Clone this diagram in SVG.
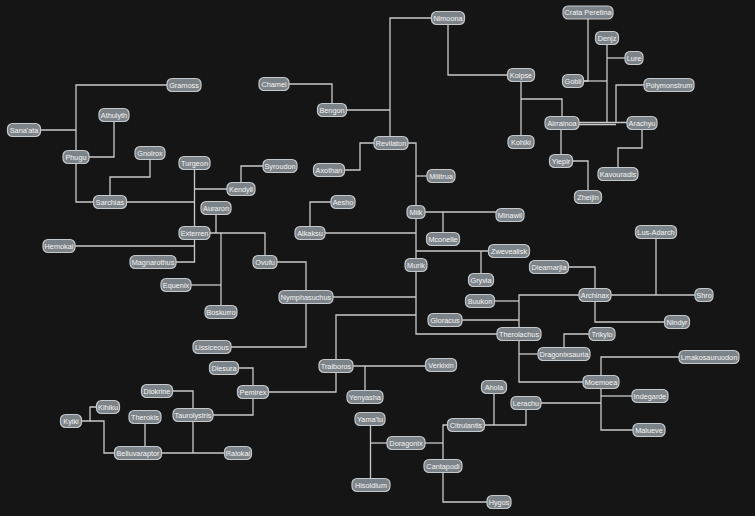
<svg xmlns="http://www.w3.org/2000/svg" width="755" height="516" viewBox="0 0 755 516">
<style>
.bg{fill:#151515}
.e path{fill:none;stroke:#c9c9c9;stroke-width:1.3}
.n rect{fill:#7c8388;stroke:#c6c9cc;stroke-width:1.2}
.n text{fill:#f4f4f4;font-family:"Liberation Sans",Arial,sans-serif;font-size:7.3px;text-anchor:middle;dominant-baseline:central}
</style>
<rect class="bg" x="0" y="0" width="755" height="516"/>
<g id="connectors" class="e">
<path d="M167,85H76V150.5"/>
<path d="M40.5,130H76"/>
<path d="M89,157H114V121.5"/>
<path d="M76,163.5V202H93.5"/>
<path d="M150,159.5V177H110V195.5"/>
<path d="M126.5,202H194.5"/>
<path d="M194.5,169.5V226.5"/>
<path d="M194.5,189H227"/>
<path d="M241,182.5V166H263"/>
<path d="M194.5,239.5V262H176"/>
<path d="M75,246H194.5"/>
<path d="M216,214.5V233"/>
<path d="M209.5,233H265V255.5"/>
<path d="M221,233V305.5"/>
<path d="M191,285H221"/>
<path d="M277,262H306V290.5"/>
<path d="M306,303.5V347H231"/>
<path d="M333,297H416"/>
<path d="M289,84H332V103.5"/>
<path d="M346.5,110H390"/>
<path d="M431.5,18H390V136.5"/>
<path d="M448,24.5V75H507.5"/>
<path d="M374,143H360V170H344.5"/>
<path d="M408,143H416V205.5"/>
<path d="M416,176H427"/>
<path d="M416,218.5V258.5"/>
<path d="M425,212H496"/>
<path d="M443,212V232.5"/>
<path d="M325,233H416"/>
<path d="M310,226.5V202H331"/>
<path d="M416,251H488.5"/>
<path d="M481,251V273.5"/>
<path d="M416,271.5V334H497"/>
<path d="M416,315H336V359.5"/>
<path d="M494.5,301H519"/>
<path d="M579,295H519V327.5"/>
<path d="M462,320H519"/>
<path d="M519,340.5V382H583"/>
<path d="M519,354H538"/>
<path d="M564,347.5V334H589"/>
<path d="M568.5,267H595V288.5"/>
<path d="M611,295H695"/>
<path d="M656,238.5V295"/>
<path d="M595,301.5V322H664.5"/>
<path d="M601,375.5V357H679"/>
<path d="M601,388.5V430H633"/>
<path d="M601,396H632"/>
<path d="M541,403H601"/>
<path d="M526,409.5V425H484.5"/>
<path d="M494,393.5V425"/>
<path d="M447.5,425H443V459.5"/>
<path d="M425,443H443"/>
<path d="M443,472.5V502H487"/>
<path d="M387,443H370.5"/>
<path d="M370.5,425.5V478.5"/>
<path d="M353,366H425.5"/>
<path d="M365,366V390.5"/>
<path d="M268.5,392H336V372.5"/>
<path d="M238.5,368H253V385.5"/>
<path d="M253,398.5V415H213"/>
<path d="M172.5,391H193V408.5"/>
<path d="M193,421.5V453"/>
<path d="M161.5,453H224.5"/>
<path d="M145,423.5V446.5"/>
<path d="M81.5,421H90V407H96.5"/>
<path d="M90,421H104V453H114.5"/>
<path d="M521,81.5V135.5"/>
<path d="M521,99H562V116.5"/>
<path d="M561,129.5V154.5"/>
<path d="M572.5,161H588V190.5"/>
<path d="M588,19V81H583.5"/>
<path d="M583.5,81H607"/>
<path d="M607,44.5V122.5"/>
<path d="M607,58H625"/>
<path d="M644,85H616V123"/>
<path d="M579,122.5H627"/>
<path d="M579,124.5H616"/>
<path d="M642,129.5V148H618V167.5"/>
</g>
<g class="n">
<g id="n-gramoss"><rect x="167" y="78.5" width="34" height="13" rx="5"/><text x="184" y="85">Gramoss</text></g>
<g id="n-athulyth"><rect x="99" y="108.5" width="30" height="13" rx="5"/><text x="114" y="115">Athulyth</text></g>
<g id="n-sanaata"><rect x="7.5" y="123.5" width="33" height="13" rx="5"/><text x="24" y="130">Sana'ata</text></g>
<g id="n-phugu"><rect x="63" y="150.5" width="26" height="13" rx="5"/><text x="76" y="157">Phugu</text></g>
<g id="n-gnolrox"><rect x="135" y="146.5" width="30" height="13" rx="5"/><text x="150" y="153">Gnolrox</text></g>
<g id="n-turgeon"><rect x="179" y="156.5" width="31" height="13" rx="5"/><text x="194.5" y="163">Turgeon</text></g>
<g id="n-kendyll"><rect x="227" y="182.5" width="28" height="13" rx="5"/><text x="241" y="189">Kendyll</text></g>
<g id="n-sarchias"><rect x="93.5" y="195.5" width="33" height="13" rx="5"/><text x="110" y="202">Sarchias</text></g>
<g id="n-auraron"><rect x="201" y="201.5" width="30" height="13" rx="5"/><text x="216" y="208">Auraron</text></g>
<g id="n-syroudon"><rect x="263" y="159.5" width="34" height="13" rx="5"/><text x="280" y="166">Syroudon</text></g>
<g id="n-nimoona"><rect x="431.5" y="11.5" width="33" height="13" rx="5"/><text x="448" y="18">Nimoona</text></g>
<g id="n-chamei"><rect x="259" y="77.5" width="30" height="13" rx="5"/><text x="274" y="84">Chamei</text></g>
<g id="n-bengon"><rect x="317.5" y="103.5" width="29" height="13" rx="5"/><text x="332" y="110">Bengon</text></g>
<g id="n-revilaton"><rect x="374" y="136.5" width="34" height="13" rx="5"/><text x="391" y="143">Revilaton</text></g>
<g id="n-axothan"><rect x="313.5" y="163.5" width="31" height="13" rx="5"/><text x="329" y="170">Axothan</text></g>
<g id="n-militrua"><rect x="427" y="169.5" width="28" height="13" rx="5"/><text x="441" y="176">Militrua</text></g>
<g id="n-crata"><rect x="563" y="6" width="50" height="13" rx="5"/><text x="588" y="12.5">Crata Peretina</text></g>
<g id="n-denjz"><rect x="595.5" y="31.5" width="23" height="13" rx="5"/><text x="607" y="38">Denjz</text></g>
<g id="n-lure"><rect x="625" y="51.5" width="18" height="13" rx="5"/><text x="634" y="58">Lure</text></g>
<g id="n-koipse"><rect x="507.5" y="68.5" width="27" height="13" rx="5"/><text x="521" y="75">Koipse</text></g>
<g id="n-gobli"><rect x="562.5" y="74.5" width="21" height="13" rx="5"/><text x="573" y="81">Gobli</text></g>
<g id="n-polymonstrum"><rect x="644" y="78.5" width="50" height="13" rx="5"/><text x="669" y="85">Polymonstrum</text></g>
<g id="n-airrainoa"><rect x="545" y="116.5" width="34" height="13" rx="5"/><text x="562" y="123">Airrainoa</text></g>
<g id="n-arachyu"><rect x="627" y="116.5" width="30" height="13" rx="5"/><text x="642" y="123">Arachyu</text></g>
<g id="n-kohiki"><rect x="508" y="135.5" width="26" height="13" rx="5"/><text x="521" y="142">Kohiki</text></g>
<g id="n-yiepir"><rect x="549.5" y="154.5" width="23" height="13" rx="5"/><text x="561" y="161">Yiepir</text></g>
<g id="n-kavouradis"><rect x="598" y="167.5" width="40" height="13" rx="5"/><text x="618" y="174">Kavouradis</text></g>
<g id="n-zheijin"><rect x="574.5" y="190.5" width="27" height="13" rx="5"/><text x="588" y="197">Zheijin</text></g>
<g id="n-exterren"><rect x="179" y="226.5" width="31" height="13" rx="5"/><text x="194.5" y="233">Exterren</text></g>
<g id="n-hemokai"><rect x="43" y="239.5" width="32" height="13" rx="5"/><text x="59" y="246">Hemokai</text></g>
<g id="n-magnarothus"><rect x="130" y="255.5" width="46" height="13" rx="5"/><text x="153" y="262">Magnarothus</text></g>
<g id="n-ovufu"><rect x="253" y="255.5" width="24" height="13" rx="5"/><text x="265" y="262">Ovufu</text></g>
<g id="n-equenix"><rect x="161" y="278.5" width="30" height="13" rx="5"/><text x="176" y="285">Equenix</text></g>
<g id="n-boskurro"><rect x="205" y="305.5" width="32" height="13" rx="5"/><text x="221" y="312">Boskurro</text></g>
<g id="n-lissiceous"><rect x="193" y="340.5" width="38" height="13" rx="5"/><text x="212" y="347">Lissiceous</text></g>
<g id="n-aesho"><rect x="331" y="195.5" width="24" height="13" rx="5"/><text x="343" y="202">Aesho</text></g>
<g id="n-miik"><rect x="407" y="205.5" width="18" height="13" rx="5"/><text x="416" y="212">Miik</text></g>
<g id="n-minawii"><rect x="496" y="208.5" width="28" height="13" rx="5"/><text x="510" y="215">Minawii</text></g>
<g id="n-alkaksu"><rect x="295" y="226.5" width="30" height="13" rx="5"/><text x="310" y="233">Alkaksu</text></g>
<g id="n-mconelle"><rect x="426.5" y="232.5" width="33" height="13" rx="5"/><text x="443" y="239">Mconelle</text></g>
<g id="n-zwevealisk"><rect x="488.5" y="244.5" width="41" height="13" rx="5"/><text x="509" y="251">Zwevealisk</text></g>
<g id="n-murik"><rect x="405" y="258.5" width="22" height="13" rx="5"/><text x="416" y="265">Murik</text></g>
<g id="n-gryvia"><rect x="468.5" y="273.5" width="25" height="13" rx="5"/><text x="481" y="280">Gryvia</text></g>
<g id="n-nymphasuchus"><rect x="279" y="290.5" width="54" height="13" rx="5"/><text x="306" y="297">Nymphasuchus</text></g>
<g id="n-buukon"><rect x="465.5" y="294.5" width="29" height="13" rx="5"/><text x="480" y="301">Buukon</text></g>
<g id="n-gloracus"><rect x="428" y="313.5" width="34" height="13" rx="5"/><text x="445" y="320">Gloracus</text></g>
<g id="n-therolachus"><rect x="497" y="327.5" width="44" height="13" rx="5"/><text x="519" y="334">Therolachus</text></g>
<g id="n-lusadarch"><rect x="635.5" y="225.5" width="41" height="13" rx="5"/><text x="656" y="232">Lus-Adarch</text></g>
<g id="n-dieamarjia"><rect x="529.5" y="260.5" width="39" height="13" rx="5"/><text x="549" y="267">Dieamarjia</text></g>
<g id="n-archinax"><rect x="579" y="288.5" width="32" height="13" rx="5"/><text x="595" y="295">Archinax</text></g>
<g id="n-shro"><rect x="695" y="288.5" width="18" height="13" rx="5"/><text x="704" y="295">Shro</text></g>
<g id="n-nindyr"><rect x="664.5" y="315.5" width="25" height="13" rx="5"/><text x="677" y="322">Nindyr</text></g>
<g id="n-trikylo"><rect x="589" y="327.5" width="26" height="13" rx="5"/><text x="602" y="334">Trikylo</text></g>
<g id="n-dragonixsauria"><rect x="538" y="347.5" width="52" height="13" rx="5"/><text x="564" y="354">Dragonixsauria</text></g>
<g id="n-lmakosauruodon"><rect x="679" y="350.5" width="60" height="13" rx="5"/><text x="709" y="357">Lmakosauruodon</text></g>
<g id="n-moemoea"><rect x="583" y="375.5" width="36" height="13" rx="5"/><text x="601" y="382">Moemoea</text></g>
<g id="n-ahola"><rect x="481.5" y="380.5" width="25" height="13" rx="5"/><text x="494" y="387">Ahola</text></g>
<g id="n-indegarde"><rect x="632" y="389.5" width="36" height="13" rx="5"/><text x="650" y="396">Indegarde</text></g>
<g id="n-lerachu"><rect x="511" y="396.5" width="30" height="13" rx="5"/><text x="526" y="403">Lerachu</text></g>
<g id="n-malueve"><rect x="633" y="423.5" width="32" height="13" rx="5"/><text x="649" y="430">Malueve</text></g>
<g id="n-diesura"><rect x="209.5" y="361.5" width="29" height="13" rx="5"/><text x="224" y="368">Diesura</text></g>
<g id="n-diokrine"><rect x="141.5" y="384.5" width="31" height="13" rx="5"/><text x="157" y="391">Diokrine</text></g>
<g id="n-pemirex"><rect x="237.5" y="385.5" width="31" height="13" rx="5"/><text x="253" y="392">Pemirex</text></g>
<g id="n-kihiku"><rect x="96.5" y="400.5" width="23" height="13" rx="5"/><text x="108" y="407">Kihiku</text></g>
<g id="n-therokis"><rect x="129" y="410.5" width="32" height="13" rx="5"/><text x="145" y="417">Therokis</text></g>
<g id="n-taurolystris"><rect x="173" y="408.5" width="40" height="13" rx="5"/><text x="193" y="415">Taurolystris</text></g>
<g id="n-kyiki"><rect x="60.5" y="414.5" width="21" height="13" rx="5"/><text x="71" y="421">Kyiki</text></g>
<g id="n-belluvaraptor"><rect x="114.5" y="446.5" width="47" height="13" rx="5"/><text x="138" y="453">Belluvaraptor</text></g>
<g id="n-ralokai"><rect x="224.5" y="446.5" width="27" height="13" rx="5"/><text x="238" y="453">Ralokai</text></g>
<g id="n-traiboros"><rect x="319" y="359.5" width="34" height="13" rx="5"/><text x="336" y="366">Traiboros</text></g>
<g id="n-verkixin"><rect x="425.5" y="358.5" width="31" height="13" rx="5"/><text x="441" y="365">Verkixin</text></g>
<g id="n-yenyasha"><rect x="347" y="390.5" width="36" height="13" rx="5"/><text x="365" y="397">Yenyasha</text></g>
<g id="n-yamatu"><rect x="355" y="412.5" width="30" height="13" rx="5"/><text x="370" y="419">Yama'tu</text></g>
<g id="n-doragonix"><rect x="387" y="436.5" width="38" height="13" rx="5"/><text x="406" y="443">Doragonix</text></g>
<g id="n-hisoldium"><rect x="352" y="478.5" width="38" height="13" rx="5"/><text x="371" y="485">Hisoldium</text></g>
<g id="n-citrulantis"><rect x="447.5" y="418.5" width="37" height="13" rx="5"/><text x="466" y="425">Citrulantis</text></g>
<g id="n-cantapodi"><rect x="424" y="459.5" width="38" height="13" rx="5"/><text x="443" y="466">Cantapodi</text></g>
<g id="n-hygos"><rect x="487" y="495.5" width="24" height="13" rx="5"/><text x="499" y="502">Hygos</text></g>
</g>
</svg>
